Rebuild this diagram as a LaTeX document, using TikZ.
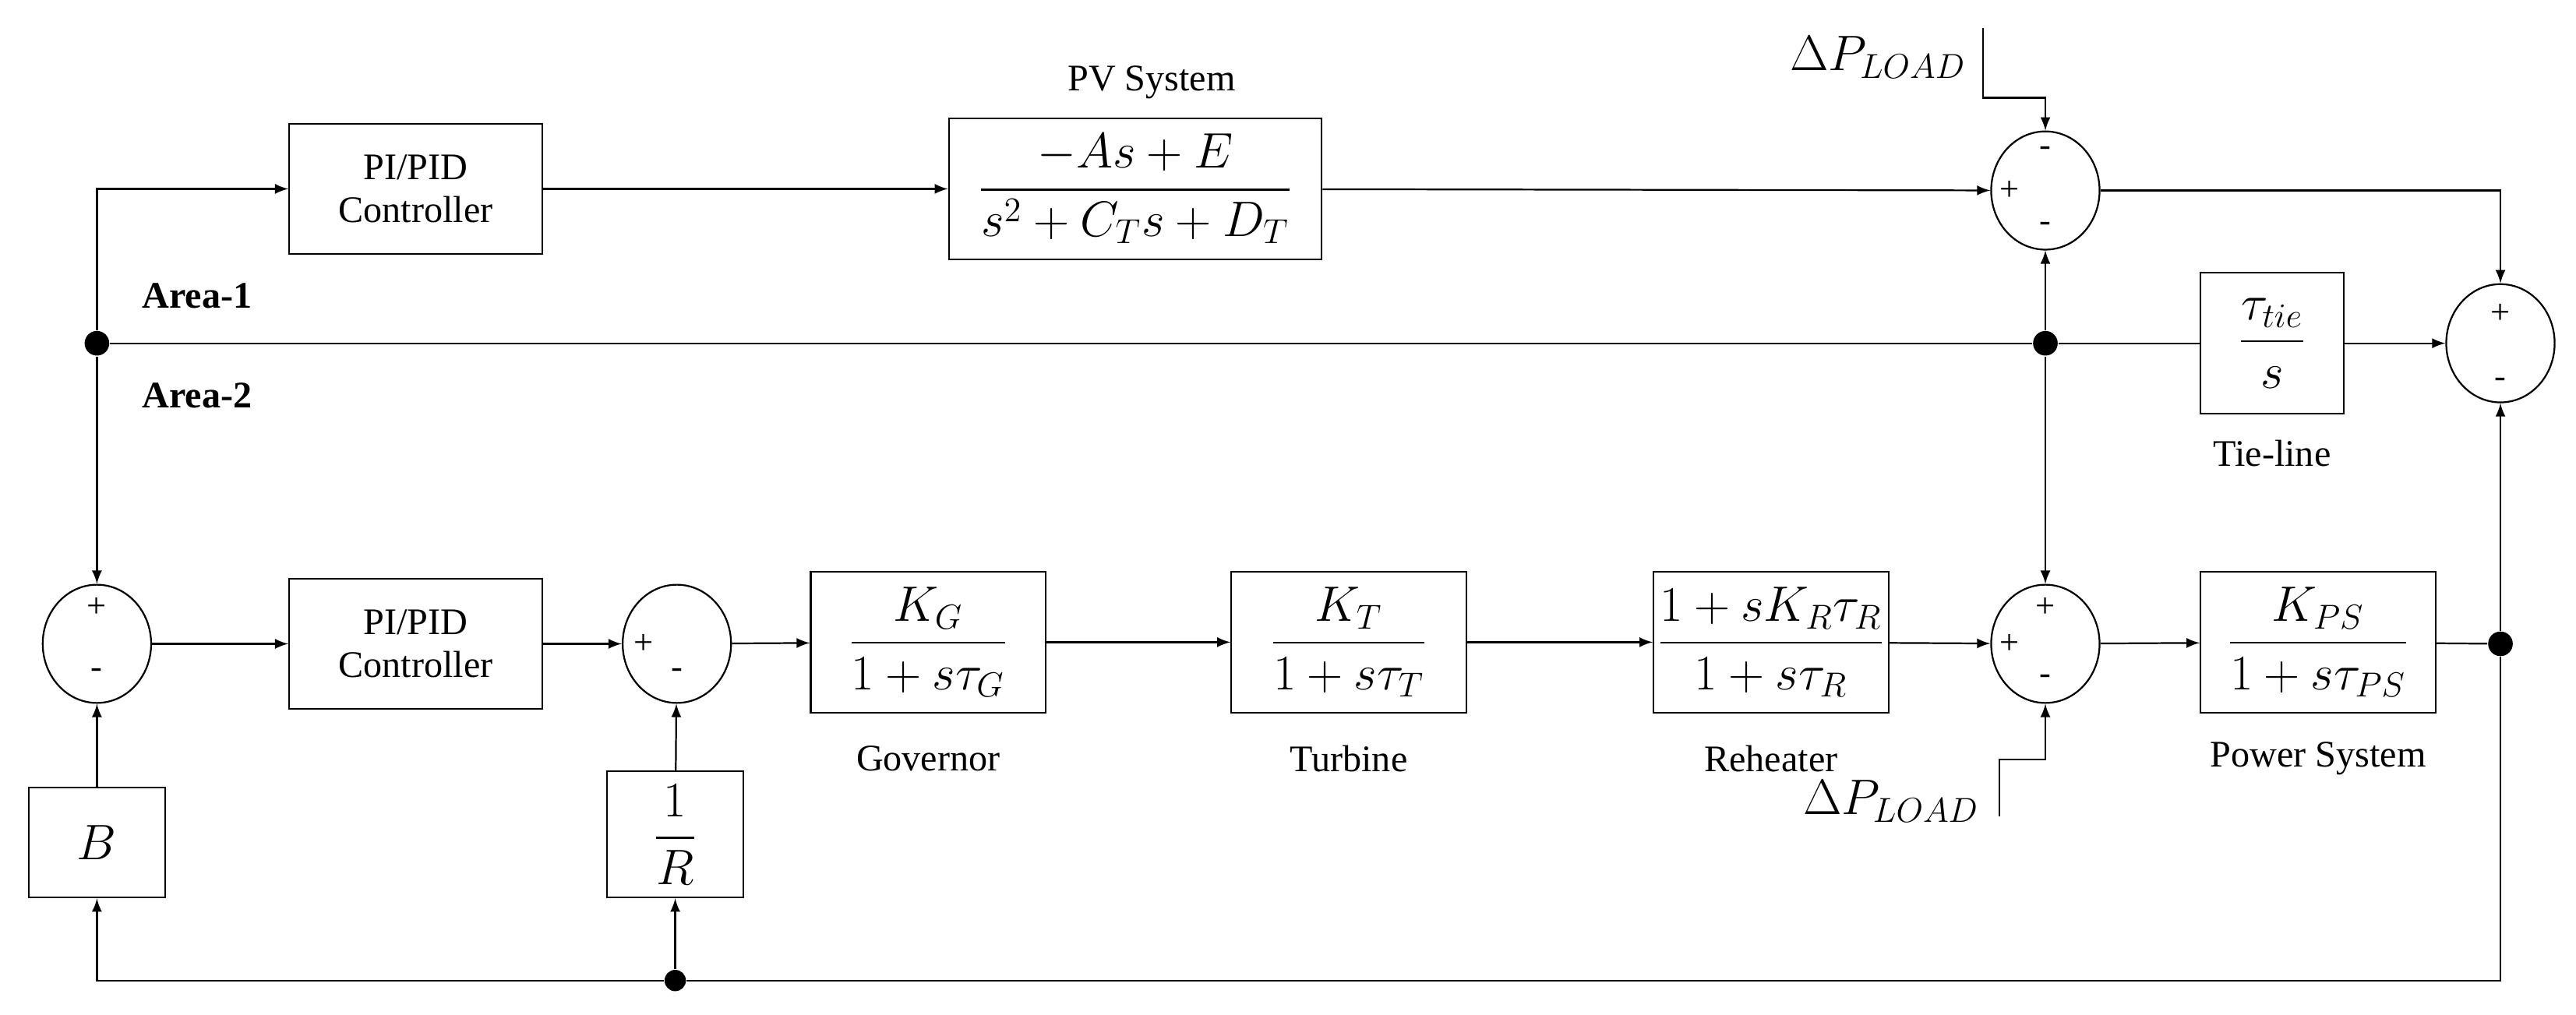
\documentclass[tikz,border=0pt]{standalone}
\usepackage{amsmath}
\usepackage{fontspec}
\setmainfont{Liberation Serif}
\usetikzlibrary{shapes.geometric,calc,arrows}

\begin{document}
\begin{tikzpicture}[>=latex, x=0.02cm, y=-0.02cm, line width=0.6pt,
    blk/.style={draw, minimum width=2.86cm, minimum height=1.72cm, inner sep=1pt, font=\fontsize{16.5}{20}\selectfont},
    ctrl/.style={draw, minimum width=3.08cm, minimum height=1.58cm, align=center, font=\fontsize{13}{15}\selectfont},
    sum/.style={draw, ellipse, minimum width=1.32cm, minimum height=1.44cm, inner sep=0pt},
    sgn/.style={font=\fontsize{12}{12}\selectfont, inner sep=0pt},
    lbl/.style={font=\fontsize{13}{15}\selectfont},
    dot/.style={circle, fill, inner sep=0pt, minimum size=0.3cm}]
  \useasboundingbox (0,0) rectangle (1568,618);

  % upper area
  \node[ctrl] (pidA) at (253,115) {PI/PID\\Controller};
  \node[blk, minimum width=4.54cm] (pv) at (691,115) {$\dfrac{-As+E}{s^2+C_Ts+D_T}$};
  \node[lbl] at (701,50) {PV System};
  \node[sum] (sA) at (1245,116) {};
  \node[sum] (sT) at (1522,209) {};
  \node[blk, minimum width=1.74cm] (tie) at (1383,209) {$\dfrac{\tau_{tie}}{s}$};
  \node[lbl] at (1383,276) {Tie-line};
  \node[font=\fontsize{13}{15}\selectfont\bfseries] at (120,180) {Area-1};
  \node[font=\fontsize{13}{15}\selectfont\bfseries] at (120,241) {Area-2};
  \node[dot] (jL) at (59,209) {};
  \node[dot] (jM) at (1245,209) {};
  \node[font=\fontsize{17}{20}\selectfont, anchor=east] (ldA) at (1203,35) {$\Delta P_{LOAD}$};
  \coordinate (ldAe) at (1207,17);

  % lower area
  \node[sum] (sB) at (59,392) {};
  \node[ctrl] (pidB) at (253,392) {PI/PID\\Controller};
  \node[sum] (sR) at (412,392) {};
  \node[blk] (gov) at (565,391) {$\dfrac{K_G}{1+s\tau_G}$};
  \node[blk] (tur) at (821,391) {$\dfrac{K_T}{1+s\tau_T}$};
  \node[blk] (reh) at (1078,391) {$\dfrac{1+sK_R\tau_R}{1+s\tau_R}$};
  \node[sum] (sP) at (1245,392) {};
  \node[blk] (ps) at (1411,391) {$\dfrac{K_{PS}}{1+s\tau_{PS}}$};
  \node[lbl] at (565,462) {Governor};
  \node[lbl] at (821,462) {Turbine};
  \node[lbl] at (1078,462) {Reheater};
  \node[lbl] at (1411,462) {Power System};
  \node[dot] (jO) at (1522,392) {};
  \node[blk, minimum width=1.66cm, minimum height=1.34cm] (bias) at (59,513) {$B$};
  \node[blk, minimum width=1.66cm, minimum height=1.54cm] (droop) at (411,508) {$\dfrac{1}{R}$};
  \node[dot, minimum size=0.26cm] (jF) at (411,597) {};
  \node[font=\fontsize{17}{20}\selectfont, anchor=east] (ldB) at (1211,488) {$\Delta P_{LOAD}$};
  \coordinate (ldBe) at (1217,497);

  % signs
  \node[sgn] at ($(sA)+(0,-24)$) {-};
  \node[sgn] at ($(sA)+(-22,0)$) {+};
  \node[sgn] at ($(sA)+(0,22)$) {-};
  \node[sgn] at ($(sT)+(0,-18)$) {+};
  \node[sgn] at ($(sT)+(0,24)$) {-};
  \node[sgn] at ($(sB)+(0,-22)$) {+};
  \node[sgn] at ($(sB)+(0,18)$) {-};
  \node[sgn] at ($(sR)+(-20,0)$) {+};
  \node[sgn] at ($(sR)+(0,18)$) {-};
  \node[sgn] at ($(sP)+(0,-22)$) {+};
  \node[sgn] at ($(sP)+(-22,0)$) {+};
  \node[sgn] at ($(sP)+(0,22)$) {-};

  % connectors
  \draw[->] (jL) |- (pidA);
  \draw[->] (pidA) -- (pv);
  \draw[->] (pv) -- (sA);
  \draw[->] (sA) -| (sT);
  \draw (jL) -- (jM);
  \draw (jM) -- (tie);
  \draw[->] (tie) -- (sT);
  \draw[->] (jM) -- (sA);
  \draw[->] (jM) -- (sP);
  \draw[->] (ldAe) |- ($(sA.north)+(0,-20)$) -- (sA);
  \draw[->] (jL) -- (sB);
  \draw[->] (sB) -- (pidB);
  \draw[->] (pidB) -- (sR);
  \draw[->] (sR) -- (gov);
  \draw[->] (gov) -- (tur);
  \draw[->] (tur) -- (reh);
  \draw[->] (reh) -- (sP);
  \draw[->] (sP) -- (ps);
  \draw (ps) -- (jO);
  \draw[->] (jO) -- (sT);
  \draw[->] (ldBe) |- ($(sP.south)+(0,34)$) -- (sP);
  \draw (jO) |- (jF);
  \draw[->] (jF) -| (bias);
  \draw[->] (jF) -- (droop);
  \draw[->] (bias) -- (sB);
  \draw[->] (droop) -- (sR);
\end{tikzpicture}
\end{document}
